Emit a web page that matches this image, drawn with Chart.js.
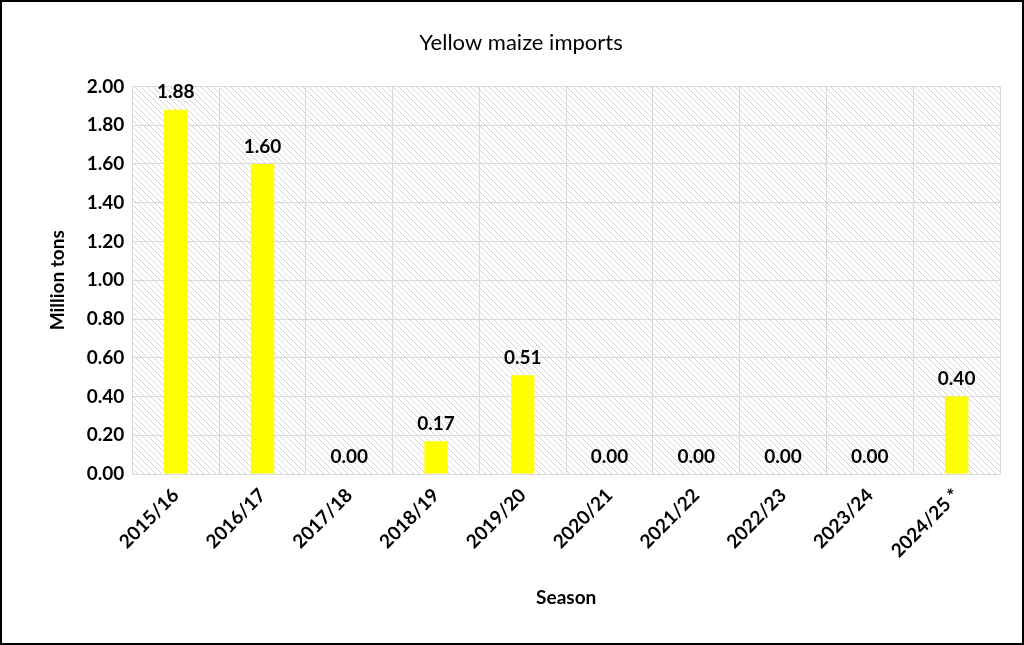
<!DOCTYPE html>
<html><head><meta charset="utf-8">
<script src="https://cdn.jsdelivr.net/npm/chart.js@4"></script>
<style>
html,body{margin:0;padding:0;background:#fff;}
#wrap{position:absolute;left:0;top:0;width:1020px;height:641px;border:2px solid #000;}
</style></head><body>
<div id="wrap"><canvas id="c" width="1020" height="641"></canvas></div>
<script>
const categories=["2015/16","2016/17","2017/18","2018/19","2019/20","2020/21","2021/22","2022/23","2023/24","2024/25 *"];
const imports=[1.88,1.60,0.00,0.17,0.51,0.00,0.00,0.00,0.00,0.40];
const yTicks=[0,0.2,0.4,0.6,0.8,1.0,1.2,1.4,1.6,1.8,2.0];
const FONT="Lato, 'Open Sans', sans-serif";

function hatch(ctx){
  const p=document.createElement('canvas');p.width=6;p.height=6;
  const g=p.getContext('2d');g.strokeStyle='#d4d4d4';g.lineWidth=1;
  g.beginPath();g.moveTo(0,0);g.lineTo(6,6);g.moveTo(-3,3);g.lineTo(3,9);g.moveTo(3,-3);g.lineTo(9,3);g.stroke();
  return ctx.createPattern(p,'repeat');
}
const bgPlugin={id:'bg',beforeDraw(ch){const{ctx,chartArea:a}=ch;ctx.save();ctx.fillStyle=hatch(ctx);ctx.fillRect(a.left,a.top,a.right-a.left,a.bottom-a.top);ctx.restore();}};
const lblPlugin={id:'lbl',afterDatasetsDraw(ch){const ctx=ch.ctx;const m=ch.getDatasetMeta(0);ctx.save();ctx.font="bold 19px "+FONT;ctx.fillStyle='#000';ctx.textAlign='center';ctx.textBaseline='bottom';
  m.data.forEach((b,i)=>{ctx.fillText(imports[i].toFixed(2),b.x,b.y-8);});ctx.restore();}};

new Chart(document.getElementById('c'),{
  type:'bar',
  data:{labels:categories,datasets:[{data:imports,backgroundColor:'#FFFF00',categoryPercentage:1,barPercentage:0.27}]},
  options:{responsive:false,animation:false,
    layout:{padding:{left:40,right:22,top:10,bottom:30}},
    plugins:{legend:{display:false},tooltip:{enabled:false},
      title:{display:true,text:'Yellow maize imports',color:'#000',font:{family:FONT,size:22,weight:'normal'},padding:{top:18,bottom:30}}},
    scales:{
      x:{grid:{color:'#d9d9d9',drawTicks:false},border:{color:'#d9d9d9'},
        ticks:{color:'#000',font:{family:FONT,size:19,weight:'bold'},maxRotation:45,minRotation:45,padding:10},
        title:{display:true,text:'Season',color:'#000',font:{family:FONT,size:19,weight:'bold'},padding:{top:14}}},
      y:{min:0,max:2,afterBuildTicks(s){s.ticks=yTicks.map(v=>({value:v}));},
        grid:{color:'#d9d9d9',drawTicks:false},border:{color:'#d9d9d9'},
        ticks:{color:'#000',font:{family:FONT,size:19,weight:'bold'},padding:8,callback:v=>v.toFixed(2)},
        title:{display:true,text:'Million tons',color:'#000',font:{family:FONT,size:19,weight:'bold'},padding:{bottom:10}}}
    }},
  plugins:[bgPlugin,lblPlugin]
});
</script></body></html>
